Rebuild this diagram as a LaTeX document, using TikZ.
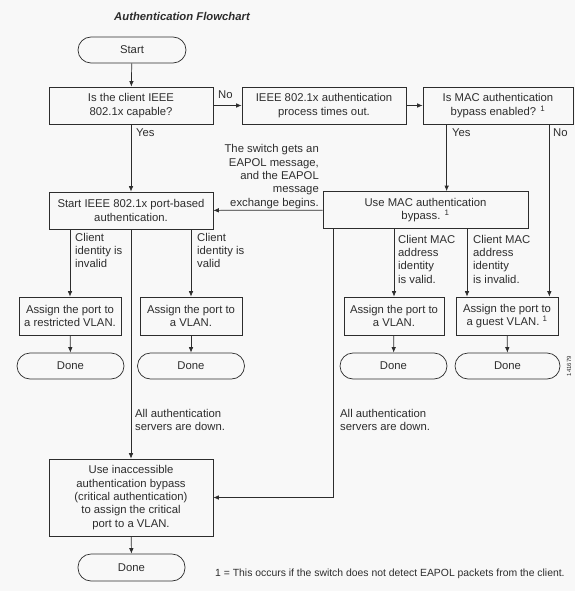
\documentclass[tikz,border=0pt]{standalone}
\usepackage{fontspec}
\setmainfont{Liberation Sans}
\usetikzlibrary{arrows.meta,positioning}
\definecolor{ink}{RGB}{45,45,45}
\definecolor{paper}{RGB}{248,248,248}
\begin{document}
\begin{tikzpicture}[x=1pt,y=-1pt,font=\fontsize{11.3}{13.3}\selectfont,text=ink,box/.style={draw=ink,line width=0.7pt,align=center,inner sep=2pt,minimum height=37pt},term/.style={draw=ink,line width=0.7pt,rounded corners=13pt,minimum width=107pt,minimum height=26pt},lbl/.style={align=left,anchor=north west,inner sep=0pt},arr/.style={draw=ink,line width=0.7pt,-{Latex[length=5.5pt,width=4.5pt]}}]
\fill[paper] (0,0) rectangle (575,591);
\useasboundingbox (0,0) rectangle (575,591);
\node (title) at (182,16) {\bfseries\itshape Authentication Flowchart};
\node[term,minimum width=108pt] (start) at (132,50) {Start};
\node[box,minimum width=164pt] (capable) at (131,105.5) {Is the client IEEE\\802.1x capable?};
\node[box,minimum width=164pt] (timeout) at (324,105.5) {IEEE 802.1x authentication\\process times out.};
\node[box,minimum width=150pt] (mabq) at (498,105.5) {Is MAC authentication\\bypass enabled? \textsuperscript{1}};
\node[box,minimum width=164pt] (dotx) at (131,210.5) {Start IEEE 802.1x port-based\\authentication.};
\node[box,minimum width=205pt] (mab) at (425.5,210) {Use MAC authentication\\bypass. \textsuperscript{1}};
\node[box,minimum width=102pt,minimum height=38pt] (restr) at (70,316) {Assign the port to\\a restricted VLAN.};
\node[box,minimum width=102pt,minimum height=38pt] (vlana) at (191,316) {Assign the port to\\a VLAN.};
\node[box,minimum width=100pt,minimum height=38pt] (vlanb) at (394,316) {Assign the port to\\a VLAN.};
\node[box,minimum width=102pt,minimum height=38pt] (guest) at (507,316) {Assign the port to\\a guest VLAN. \textsuperscript{1}};
\node[term] (donea) at (70.5,366) {Done};
\node[term] (doneb) at (191,366) {Done};
\node[term] (donec) at (393.5,366) {Done};
\node[term,minimum width=105pt] (doned) at (507.5,366) {Done};
\node[box,minimum width=164pt,minimum height=77pt] (crit) at (131,497.5) {Use inaccessible\\authentication bypass\\(critical authentication)\\to assign the critical\\port to a VLAN.};
\node[term,minimum height=27pt] (donee) at (131.5,567.5) {Done};
% branch labels
\node[lbl] (no1) at (218,91) {No};
\node[lbl] (yes1) at (136,129) {Yes};
\node[lbl] (yes2) at (452,129) {Yes};
\node[lbl] (no2) at (553,129) {No};
\node[align=right,anchor=north east,inner sep=0pt] (eapol) at (319,144.5) {The switch gets an\\EAPOL message,\\and the EAPOL\\message\\exchange begins.};
\node[lbl] (inval) at (75,233) {Client\\identity is\\invalid};
\node[lbl] (val) at (197,233) {Client\\identity is\\valid};
\node[lbl] (macval) at (398,235) {Client MAC\\address\\identity\\is valid.};
\node[lbl] (macinval) at (473,235) {Client MAC\\address\\identity\\is invalid.};
\node[lbl] (downa) at (135,409) {All authentication\\servers are down.};
\node[lbl] (downb) at (340,409) {All authentication\\servers are down.};
\node[anchor=west,inner sep=0pt,font=\fontsize{10.4}{12}\selectfont] (note) at (215,574) {1 = This occurs if the switch does not detect EAPOL packets from the client.};
\node[rotate=90,inner sep=0pt,font=\fontsize{6}{7}\selectfont] (figid) at (569,366) {141679};
% connectors
\draw[arr](start)--(capable);\draw[arr](capable)--(timeout);\draw[arr](timeout)--(mabq);
\draw[arr](capable)--(dotx);\draw[arr](mab)--(dotx);
\draw[arr]([xshift=24pt]mabq.south west)--([xshift=24pt]mabq.south west|-mab.north);
\draw[arr]([xshift=-24pt]mabq.south east)--([xshift=-24pt]mabq.south east|-guest.north);
\draw[arr](restr.north|-dotx.south)--(restr);\draw[arr](vlana.north|-dotx.south)--(vlana);
\draw[arr](vlanb.north|-mab.south)--(vlanb);\draw[arr]([xshift=-40pt]guest.north|-mab.south)--([xshift=-40pt]guest.north);
\draw[arr](restr)--(donea);\draw[arr](vlana)--(doneb);\draw[arr](vlanb)--(donec);\draw[arr](guest)--(doned);
\draw[arr](dotx)--(crit);\draw[arr]([xshift=11pt]mab.south west)|-(crit);
\draw[arr](crit)--(donee);
\end{tikzpicture}
\end{document}
